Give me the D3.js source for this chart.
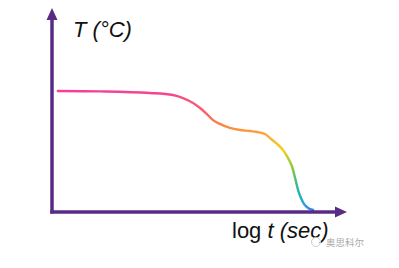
<!DOCTYPE html>
<html lang="zh">
<head>
<meta charset="UTF-8">
<title>T vs log t</title>
<script src="https://unpkg.com/d3@7.8.5/dist/d3.min.js"></script>
<style>
  * { margin: 0; padding: 0; box-sizing: border-box; }
  body { background: #fff; }
  svg { display: block; }
</style>
</head>
<body>
<svg id="chart" width="399" height="268"></svg>
<script>
  // 曲线数据 (log t, T)
  const logT = [0.2, 1.63, 3.32, 4.10, 4.44, 4.78, 5.02, 5.25, 5.46, 5.69, 6.03, 6.37, 6.71, 6.95,
                7.22, 7.39, 7.63, 7.83, 8.0, 8.14, 8.24, 8.34, 8.44, 8.54, 8.68, 8.85]
  const temp = [59.9, 59.7, 58.9, 57.9, 56.4, 54.0, 51.5, 48.5, 45.5, 43.6, 41.6, 40.6, 40.1, 39.6,
                38.6, 36.6, 33.7, 30.7, 26.7, 22.3, 16.8, 10.9, 6.9, 4.0, 2.0, 1.0]
  const xLabel = ['log ', 't (sec)']
  const yLabel = 'T (°C)'
  const watermark = '奥思科尔'

  // 渐变色 (按 log t 位置)
  const gradStops = [
    [0.2, '#f43f9b'], [4.0, '#f5468f'], [5.2, '#f8606c'], [5.8, '#fb8a3c'],
    [7.2, '#fca23a'], [7.85, '#f3d21f'], [8.15, '#86c83a'], [8.35, '#1fb7a4'],
    [8.55, '#2e9be2'], [8.85, '#3c7ee0']
  ]

  const axisColor = '#582c86'
  const svg = d3.select('#chart')

  const x = d3.scaleLinear().domain([0, 10]).range([52, 347])
  const y = d3.scaleLinear().domain([0, 100]).range([212, 10])

  const defs = svg.append('defs')
  const grad = defs.append('linearGradient')
    .attr('id', 'lineGrad')
    .attr('gradientUnits', 'userSpaceOnUse')
    .attr('x1', x(0)).attr('x2', x(10))
    .attr('y1', 0).attr('y2', 0)
  grad.selectAll('stop').data(gradStops).enter().append('stop')
    .attr('offset', d => (d[0] / 10))
    .attr('stop-color', d => d[1])

  // 曲线
  const line = d3.line()
    .x((d, i) => x(logT[i]))
    .y(d => y(d))
    .curve(d3.curveMonotoneX)

  svg.append('path')
    .datum(temp)
    .attr('d', line)
    .attr('fill', 'none')
    .attr('stroke', 'url(#lineGrad)')
    .attr('stroke-width', 2.4)
    .attr('stroke-linecap', 'round')

  // 坐标轴
  const x0 = x(0), y0 = y(0)
  const xEnd = x(10), yEnd = 8

  svg.append('line')
    .attr('x1', x0).attr('y1', y0 + 1.5)
    .attr('x2', x0).attr('y2', yEnd + 10)
    .attr('stroke', axisColor).attr('stroke-width', 3.5)
  svg.append('path')
    .attr('d', `M${x0 - 5.5},${yEnd + 12} L${x0},${yEnd} L${x0 + 5.5},${yEnd + 12} Z`)
    .attr('fill', axisColor)

  svg.append('line')
    .attr('x1', x0 - 1.75).attr('y1', y0)
    .attr('x2', xEnd - 10).attr('y2', y0)
    .attr('stroke', axisColor).attr('stroke-width', 3.5)
  svg.append('path')
    .attr('d', `M${xEnd - 12},${y0 - 5.5} L${xEnd},${y0} L${xEnd - 12},${y0 + 5.5} Z`)
    .attr('fill', axisColor)

  // 标签
  svg.append('text')
    .attr('x', 73).attr('y', 37)
    .attr('font-family', 'Liberation Sans, Arial, sans-serif')
    .attr('font-size', 22)
    .attr('font-style', 'italic')
    .attr('fill', '#111')
    .text(yLabel)

  const xl = svg.append('text')
    .attr('x', 232).attr('y', 238)
    .attr('font-family', 'Liberation Sans, Arial, sans-serif')
    .attr('font-size', 22)
    .attr('fill', '#111')
  xl.append('tspan').text(xLabel[0])
  xl.append('tspan').attr('font-style', 'italic').text(xLabel[1])

  // 水印
  svg.append('circle')
    .attr('cx', 316).attr('cy', 242).attr('r', 4.5)
    .attr('fill', 'none').attr('stroke', '#ccc').attr('stroke-width', 1)
  svg.append('text')
    .attr('x', 326).attr('y', 246)
    .attr('font-family', 'Noto Sans CJK SC, sans-serif')
    .attr('font-size', 9.5)
    .attr('fill', '#aaa')
    .text(watermark)
</script>
</body>
</html>
